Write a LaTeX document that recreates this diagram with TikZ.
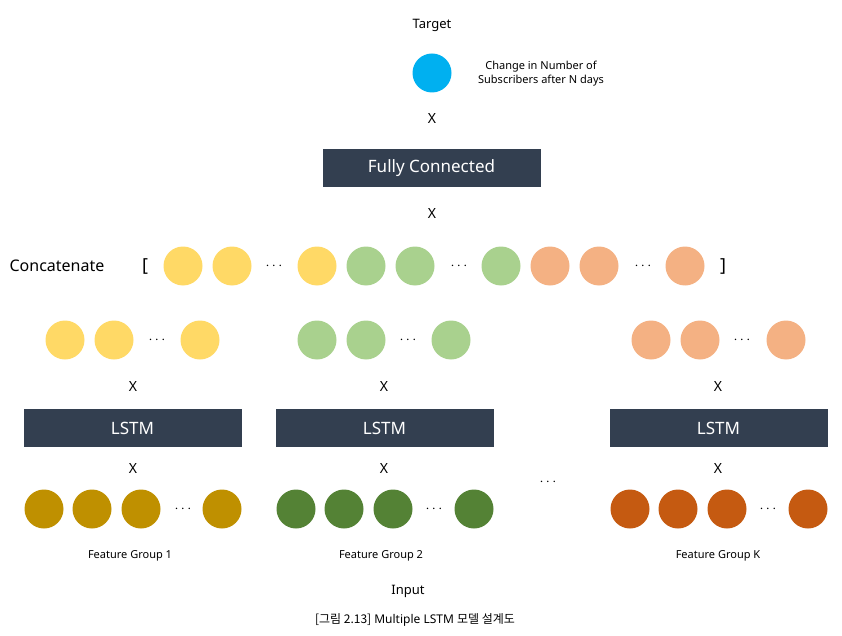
\documentclass[tikz,border=0pt]{standalone}
\usepackage{fontspec}
\setmainfont{Noto Sans}
\newfontfamily\cjk{Noto Sans CJK KR}
\definecolor{cy}{HTML}{FFD966}\definecolor{cg}{HTML}{A9D18E}\definecolor{co}{HTML}{F4B183}
\definecolor{dy}{HTML}{BF9000}\definecolor{dg}{HTML}{548235}\definecolor{do}{HTML}{C55A11}
\definecolor{cb}{HTML}{00B0F0}\definecolor{bx}{HTML}{333F50}
\begin{document}
\begin{tikzpicture}[x=1pt,y=-1pt,
 dot/.style={circle,draw=none,minimum size=39pt,inner sep=0pt},
 box/.style={fill=bx,minimum width=218pt,minimum height=38pt,text=white,font=\fontsize{17}{20}\selectfont},
 xx/.style={font=\bfseries\fontsize{14}{16}\selectfont},
 dd/.style={font=\bfseries\fontsize{14}{16}\selectfont},
 lab/.style={font=\fontsize{11}{14}\selectfont}]
\useasboundingbox (0,0) rectangle (842,636);
\node[font=\bfseries\fontsize{13}{16}\selectfont] (target) at (432,25) {Target};
\node[dot,fill=cb] (out) at (432,73) {};
\node[lab,align=center] (outlab) at (541,74) {Change in Number of\\Subscribers after N days};
\node[xx] (x1) at (432,119) {X};
\node[box] (fc) at (431.5,168) {Fully Connected};
\node[xx] (x2) at (432,214) {X};
\node[font=\fontsize{16}{19}\selectfont] (cat) at (57,266) {Concatenate};
\node[font=\bfseries\fontsize{18}{20}\selectfont] (lb) at (145,266) {[};
\node[font=\bfseries\fontsize{18}{20}\selectfont] (rb) at (723,266) {]};
\foreach \x/\c [count=\i] in {183/cy,232/cy,317/cy,366/cg,415/cg,501/cg,550/co,599/co,685/co}
  \node[dot,fill=\c] (k\i) at (\x,266) {};
\foreach \x [count=\i] in {274,459,643} \node[dd] (kd\i) at (\x,266) {$\cdots$};
\foreach \x/\c [count=\i] in {65/cy,114/cy,200/cy,317/cg,366/cg,451/cg,651/co,700/co,786/co}
  \node[dot,fill=\c] (h\i) at (\x,340) {};
\foreach \x [count=\i] in {157,408,742} \node[dd] (hd\i) at (\x,340) {$\cdots$};
\foreach \x [count=\i] in {133,384,718} {
  \node[xx] (xa\i) at (\x,386) {X};
  \node[xx] (xb\i) at (\x,468) {X};}
\node[box] (l1) at (132.5,428) {LSTM};
\node[box] (l2) at (384.5,428) {LSTM};
\node[box] (l3) at (718.5,428) {LSTM};
\foreach \x/\c [count=\i] in {44/dy,92/dy,141/dy,222/dy,296/dg,344/dg,393/dg,474/dg,630/do,678/do,727/do,808/do}
  \node[dot,fill=\c] (f\i) at (\x,509) {};
\foreach \x [count=\i] in {183,434,768} \node[dd] (fd\i) at (\x,509) {$\cdots$};
\node[dd] (mid) at (548,482) {$\cdots$};
\node[lab] (g1) at (130,556) {Feature Group 1};
\node[lab] (g2) at (381,556) {Feature Group 2};
\node[lab] (g3) at (718,556) {Feature Group K};
\node[font=\bfseries\fontsize{13}{16}\selectfont] (inp) at (408,591) {Input};
\node[font=\fontsize{12}{14}\selectfont] (cap) at (415,620) {{\cjk [그림 2.13]} \textrm{Multiple LSTM} {\cjk 모델 설계도}};
\end{tikzpicture}
\end{document}
